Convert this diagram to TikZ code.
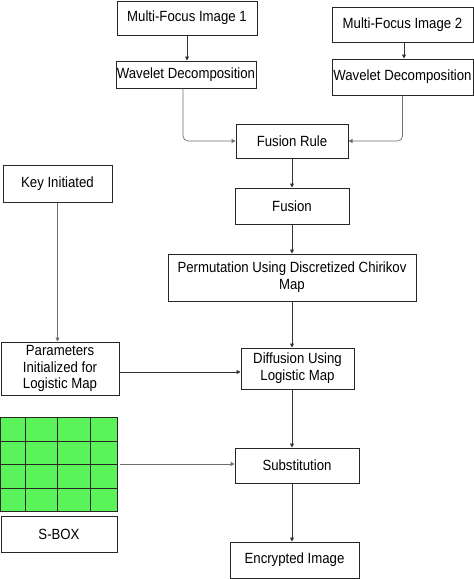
\documentclass[tikz,border=0pt]{standalone}
\usepackage{fontspec}
\usepackage{graphicx}
\setmainfont{Liberation Sans}
\usetikzlibrary{arrows.meta}
\definecolor{sgreen}{RGB}{90,243,90}
\definecolor{lgray}{RGB}{110,110,110}
\newcommand{\vs}[1]{\scalebox{1}[1.12]{#1}}
\tikzset{
  box/.style={draw=black!85, line width=1pt, fill=white, inner sep=0pt, align=center,
    font=\fontsize{13.2}{16.7}\selectfont},
  conn/.style={draw=black!80, line width=0.8pt, -{Triangle[length=4pt,width=4pt]}},
  lconn/.style={draw=lgray, line width=0.7pt, -{Triangle[length=4pt,width=4pt]}}
}
\begin{document}
\begin{tikzpicture}[x=1pt,y=-1pt]
\useasboundingbox (0,0) rectangle (474,579);
\node[box, minimum width=140, minimum height=34] (m1) at (187,18) {\vs{Multi-Focus Image 1}};
\node[box, minimum width=140, minimum height=27] (wd1) at (186,74.5) {\vs{Wavelet Decomposition}};
\node[box, minimum width=141, minimum height=35] (m2) at (402.5,24.5) {\vs{Multi-Focus Image 2}};
\node[box, minimum width=141, minimum height=36] (wd2) at (402.5,77) {\vs{Wavelet Decomposition}};
\node[box, minimum width=112, minimum height=34] (fr) at (292,141) {\vs{Fusion Rule}};
\node[box, minimum width=114, minimum height=36] (fu) at (292,206) {\vs{Fusion}};
\node[box, minimum width=248, minimum height=47] (perm) at (292,277.5) {\vs{Permutation Using Discretized Chirikov}\\\vs{Map}};
\node[box, minimum width=109, minimum height=37] (key) at (57.5,183.5) {\vs{Key Initiated}};
\node[box, minimum width=118, minimum height=53] (par) at (60,368.5) {\vs{Parameters}\\\vs{Initialized for}\\\vs{Logistic Map}};
\node[box, minimum width=113, minimum height=41] (dif) at (297.5,368.5) {\vs{Diffusion Using}\\\vs{Logistic Map}};
\node[box, minimum width=124, minimum height=35] (sub) at (297,465.5) {\vs{Substitution}};
\node[box, minimum width=129, minimum height=36] (enc) at (294.5,560) {\vs{Encrypted Image}};
\node[box, minimum width=116, minimum height=36] (sbox) at (59,534) {\vs{S-BOX}};
\node[draw=black!85, line width=1pt, fill=sgreen, minimum width=117, minimum height=94, inner sep=0pt] (grid) at (58.5,464) {};
\foreach \x in {25,57,90} \draw[black!85, line width=0.9pt] (\x,417) -- (\x,511);
\foreach \y in {441,464,488} \draw[black!85, line width=0.9pt] (0,\y) -- (117,\y);
\coordinate (mx) at (292,0);
\draw[conn] (m1.south) -- (m1.south |- wd1.north);
\draw[conn] ([xshift=1.5pt]m2.south) -- ([xshift=1.5pt]m2.south |- wd2.north);
\draw[lconn, rounded corners=5pt] ([xshift=-3pt]wd1.south) |- (fr.west);
\draw[lconn, rounded corners=5pt] (wd2.south) |- (fr.east);
\draw[conn] (fr.south) -- (fu.north);
\draw[conn] (fu.south) -- (perm.north);
\draw[conn] (perm.south) -- (perm.south |- dif.north);
\draw[conn] (mx |- dif.south) -- (mx |- sub.north);
\draw[conn] (mx |- sub.south) -- (mx |- enc.north);
\draw[lconn] (key.south) -- (key.south |- par.north);
\draw[conn] ([yshift=-3.5pt]par.east) -- ([yshift=-3.5pt]par.east -| dif.west);
\draw[lconn] ([xshift=2pt]grid.east) -- (grid.east -| sub.west);
\end{tikzpicture}
\end{document}
